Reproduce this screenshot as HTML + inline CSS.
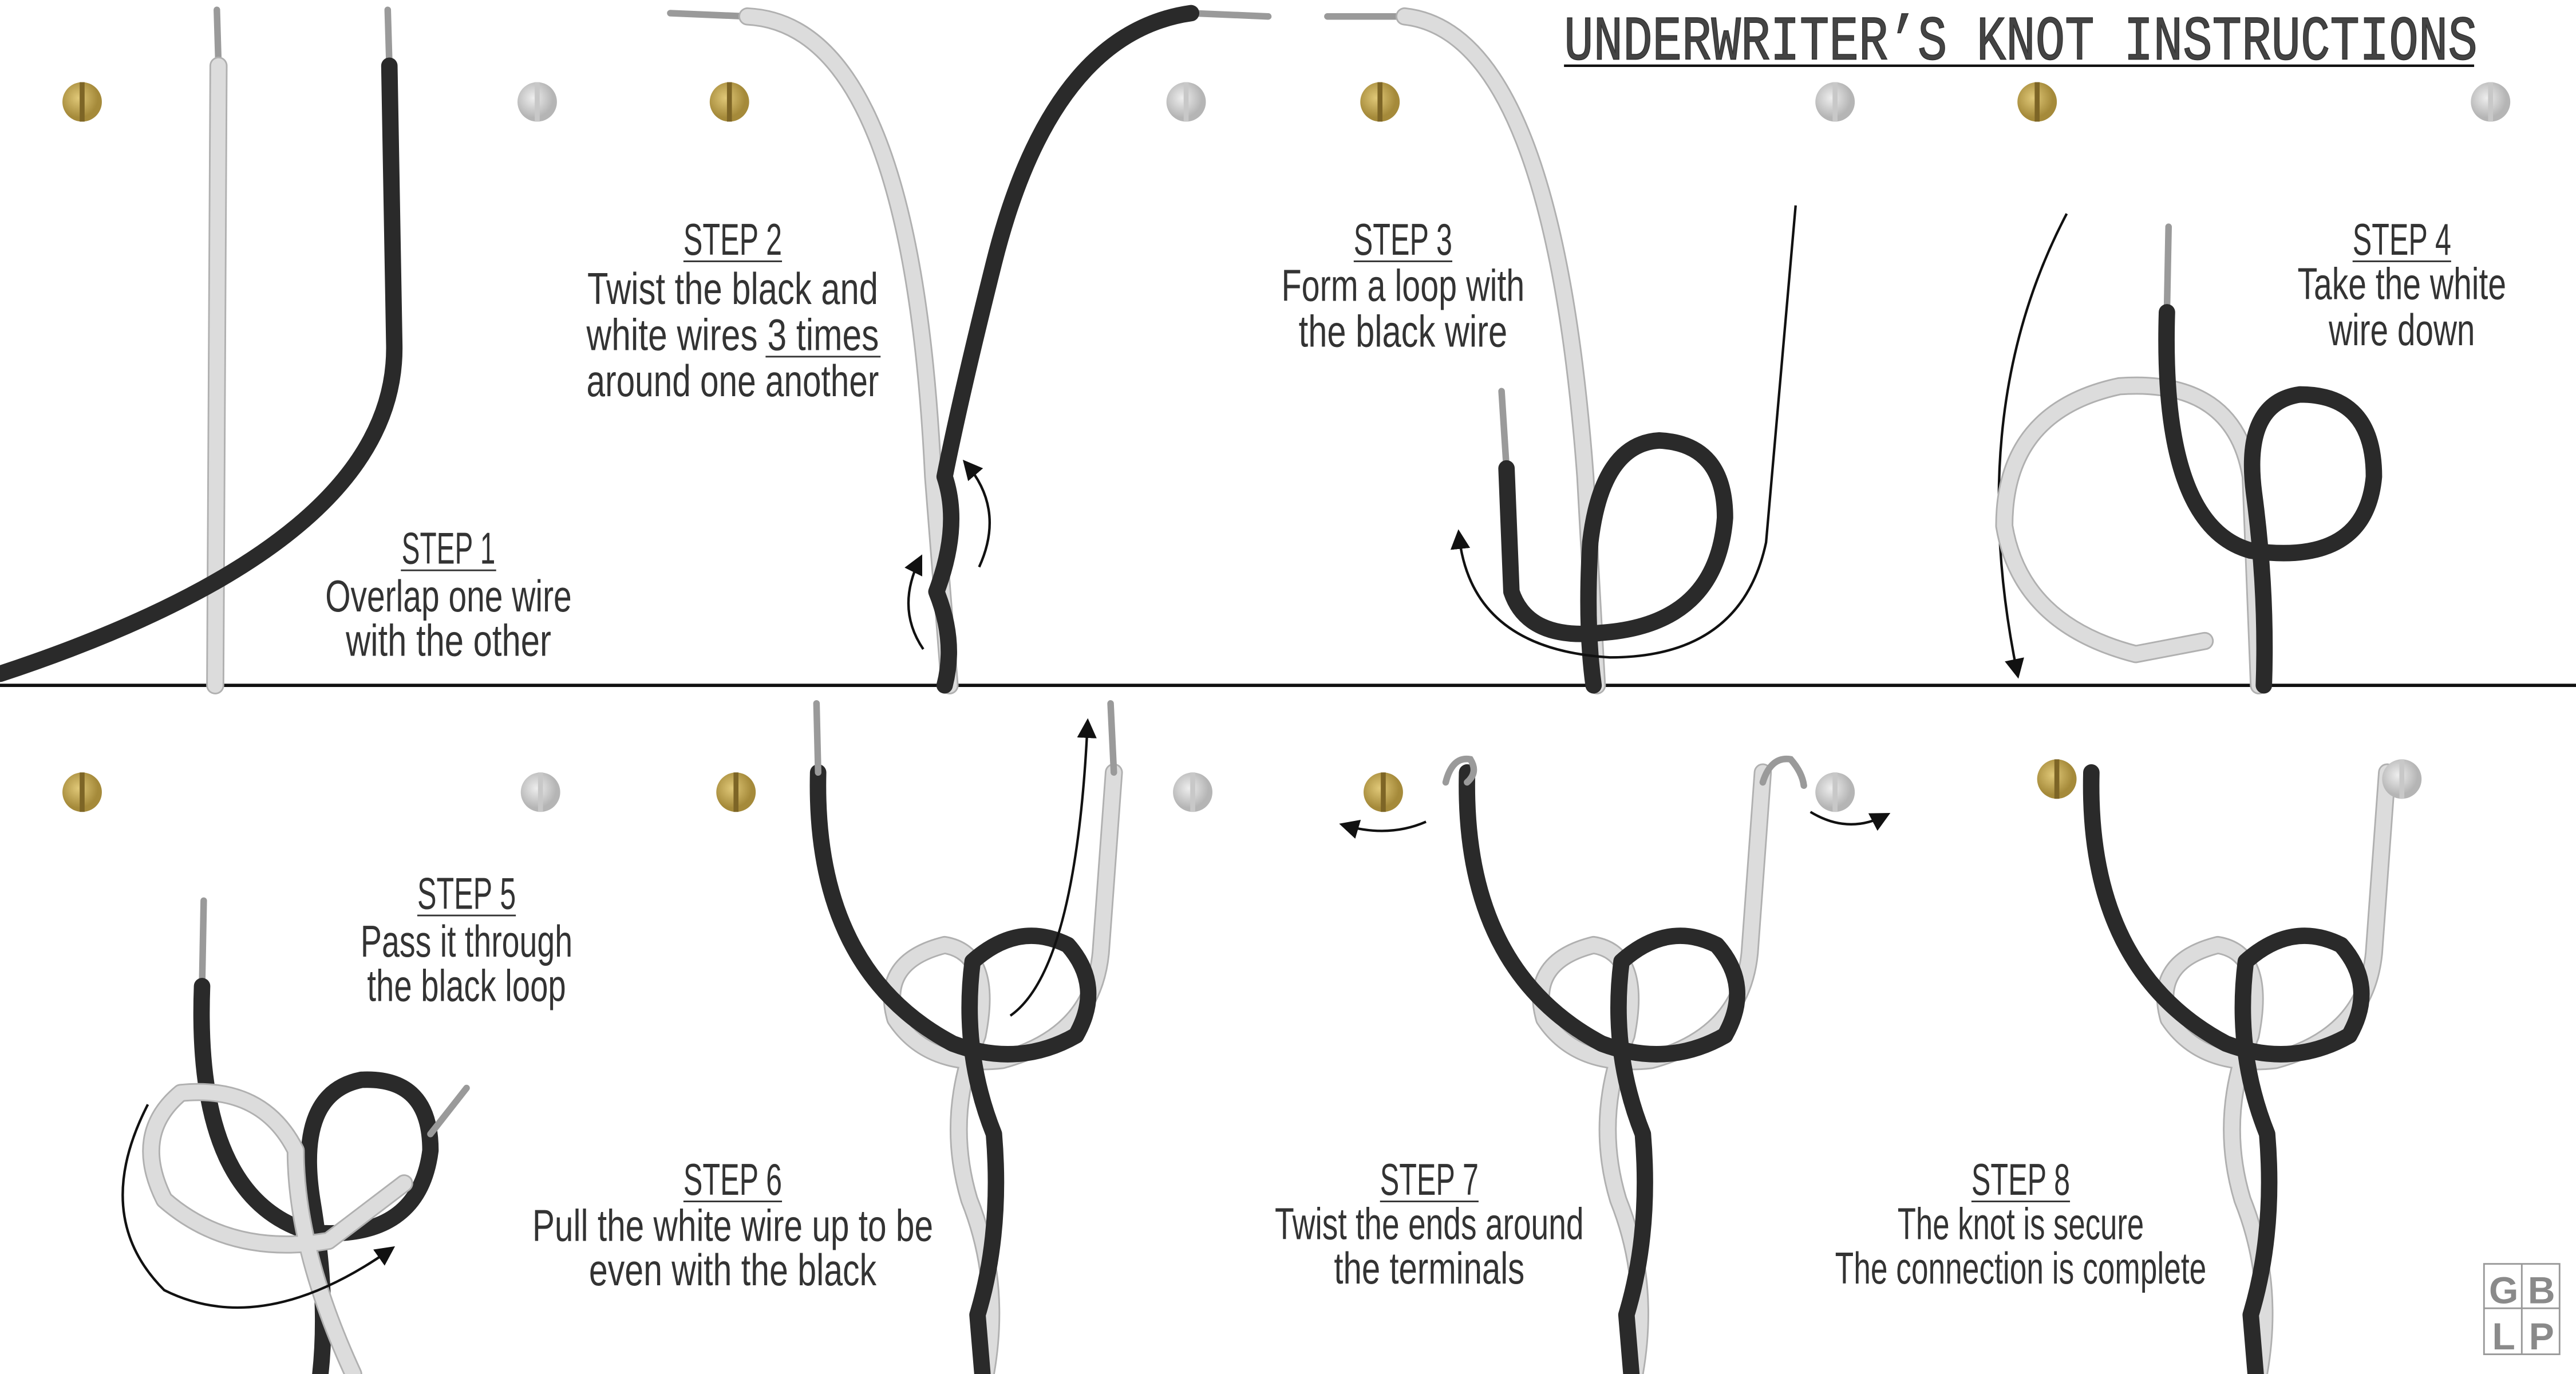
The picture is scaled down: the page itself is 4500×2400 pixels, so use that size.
<!DOCTYPE html>
<html><head><meta charset="utf-8">
<style>
html,body{margin:0;padding:0;background:#fff;}
svg{display:block;}
.t{font-family:"Liberation Sans Narrow","Liberation Sans",sans-serif;fill:#333;font-size:27px;text-anchor:middle;}
.bw{fill:none;stroke:#2a2a2a;stroke-width:10;stroke-linecap:round;stroke-linejoin:round;}
.ww{fill:none;stroke:#dcdcdc;stroke-width:9;stroke-linecap:round;stroke-linejoin:round;}
.wo{fill:none;stroke:#b0b0b0;stroke-width:11;stroke-linecap:round;stroke-linejoin:round;}
.tip{fill:none;stroke:#9a9a9a;stroke-width:4;stroke-linecap:round;}
.ar{fill:none;stroke:#111;stroke-width:1.5;}
</style></head>
<body>
<svg width="4500" height="2400" viewBox="0 0 1568 836" preserveAspectRatio="none" xmlns="http://www.w3.org/2000/svg">
<defs>
<radialGradient id="gold" cx="40%" cy="40%"><stop offset="0" stop-color="#e0c878"/><stop offset="1" stop-color="#a58a3a"/></radialGradient>
<radialGradient id="silv" cx="40%" cy="40%"><stop offset="0" stop-color="#eeeeee"/><stop offset="1" stop-color="#b5b5b5"/></radialGradient>
<marker id="ah" markerWidth="8" markerHeight="8" refX="6" refY="4" orient="auto"><path d="M0,0 L8,4 L0,8 z" fill="#111"/></marker>
<g id="sg"><circle r="12" fill="url(#gold)"/><rect x="-1.5" y="-12" width="3" height="24" fill="#7d6526"/></g>
<g id="ss"><circle r="12" fill="url(#silv)"/><rect x="-1.5" y="-12" width="3" height="24" fill="#c8c8c8"/></g>
</defs>
<rect width="1568" height="836" fill="#fff"/>

<text x="952" y="36" font-family="Liberation Mono,monospace" font-size="38" fill="#444" textLength="556" lengthAdjust="spacingAndGlyphs" stroke="#333" stroke-width="0.6">UNDERWRITER’S KNOT INSTRUCTIONS</text>
<line x1="952" y1="40" x2="1506" y2="40" stroke="#111" stroke-width="1.5"/>

<line x1="0" y1="417" x2="1568" y2="417" stroke="#111" stroke-width="2"/>

<use href="#sg" x="50" y="62"/><use href="#ss" x="327" y="62"/>
<use href="#sg" x="444" y="62"/><use href="#ss" x="722" y="62"/>
<use href="#sg" x="840" y="62"/><use href="#ss" x="1117" y="62"/>
<use href="#sg" x="1240" y="62"/><use href="#ss" x="1516" y="62"/>
<use href="#sg" x="50" y="482"/><use href="#ss" x="329" y="482"/>
<use href="#sg" x="448" y="482"/><use href="#ss" x="726" y="482"/>
<use href="#sg" x="842" y="482"/><use href="#ss" x="1117" y="482"/>

<!-- STEP 1 -->
<line class="tip" x1="132" y1="6" x2="133" y2="40"/>
<line class="wo" x1="133" y1="40" x2="131" y2="417"/><line class="ww" x1="133" y1="40" x2="131" y2="417"/>
<line class="tip" x1="236" y1="6" x2="237" y2="40"/>
<path class="bw" d="M237,40 L240,210 Q242,330 0,410"/>
<text class="t" x="273" y="343" textLength="57" lengthAdjust="spacingAndGlyphs">STEP 1</text><line x1="244" y1="347" x2="302" y2="347" stroke="#333"/>
<text class="t" x="273" y="372" textLength="150" lengthAdjust="spacingAndGlyphs">Overlap one wire</text>
<text class="t" x="273" y="399" textLength="125" lengthAdjust="spacingAndGlyphs">with the other</text>

<!-- STEP 2 -->
<line class="tip" x1="408" y1="8" x2="455" y2="10"/>
<path class="wo" d="M455,10 Q555,15 568,290 L578,417"/><path class="ww" d="M455,10 Q555,15 568,290 L578,417"/>
<line class="tip" x1="725" y1="8" x2="772" y2="10"/>
<path class="bw" d="M725,8 Q640,20 605,160 Q585,240 575,290 Q585,320 570,360 Q582,390 575,417"/>
<path class="ar" d="M596,345 Q612,310 588,282" marker-end="url(#ah)"/>
<path class="ar" d="M562,395 Q545,370 560,340" marker-end="url(#ah)"/>
<text class="t" x="446" y="155" textLength="60" lengthAdjust="spacingAndGlyphs">STEP 2</text><line x1="416" y1="159" x2="476" y2="159" stroke="#333"/>
<text class="t" x="446" y="185" textLength="177" lengthAdjust="spacingAndGlyphs">Twist the black and</text>
<text class="t" x="446" y="213" textLength="178" lengthAdjust="spacingAndGlyphs">white wires 3 times</text><line x1="466" y1="217" x2="536" y2="217" stroke="#333"/>
<text class="t" x="446" y="241" textLength="178" lengthAdjust="spacingAndGlyphs">around one another</text>

<!-- STEP 3 -->
<line class="tip" x1="808" y1="10" x2="855" y2="10"/>
<path class="wo" d="M855,10 Q945,20 965,290 L972,417"/><path class="ww" d="M855,10 Q945,20 965,290 L972,417"/>
<line class="tip" x1="914" y1="238" x2="917" y2="285"/>
<path class="bw" d="M917,285 L920,360 Q930,390 975,385 Q1045,380 1050,315 Q1050,270 1010,268 Q975,270 968,330 Q965,380 970,417"/>
<path class="ar" d="M1093,125 L1075,330 Q1060,400 980,400 Q895,395 888,325" marker-end="url(#ah)"/>
<text class="t" x="854" y="155" textLength="60" lengthAdjust="spacingAndGlyphs">STEP 3</text><line x1="824" y1="159" x2="884" y2="159" stroke="#333"/>
<text class="t" x="854" y="183" textLength="148" lengthAdjust="spacingAndGlyphs">Form a loop with</text>
<text class="t" x="854" y="211" textLength="127" lengthAdjust="spacingAndGlyphs">the black wire</text>

<!-- STEP 4 -->
<path class="ar" d="M1258,130 Q1195,250 1228,410" marker-end="url(#ah)"/>
<path class="wo" d="M1375,417 L1370,290 Q1360,230 1290,235 Q1220,250 1220,320 Q1230,380 1300,398 L1342,390"/>
<path class="ww" d="M1375,417 L1370,290 Q1360,230 1290,235 Q1220,250 1220,320 Q1230,380 1300,398 L1342,390"/>
<line class="tip" x1="1320" y1="138" x2="1319" y2="190"/>
<path class="bw" d="M1319,190 Q1315,320 1370,335 Q1440,345 1445,290 Q1445,240 1400,240 Q1365,245 1372,300 Q1380,360 1378,417"/>
<text class="t" x="1462" y="155" textLength="60" lengthAdjust="spacingAndGlyphs">STEP 4</text><line x1="1432" y1="159" x2="1492" y2="159" stroke="#333"/>
<text class="t" x="1462" y="182" textLength="127" lengthAdjust="spacingAndGlyphs">Take the white</text>
<text class="t" x="1462" y="210" textLength="89" lengthAdjust="spacingAndGlyphs">wire down</text>

<!-- STEP 5 -->
<line class="tip" x1="124" y1="548" x2="123" y2="600"/>
<path class="bw" d="M123,600 Q118,730 190,750 Q255,755 262,700 Q262,655 220,657 Q180,665 190,730 Q200,790 195,836"/>
<path class="wo" d="M215,836 Q180,760 180,700 Q160,660 110,665 Q80,690 100,730 Q140,765 200,755 L246,720"/>
<path class="ww" d="M215,836 Q180,760 180,700 Q160,660 110,665 Q80,690 100,730 Q140,765 200,755 L246,720"/>
<line class="tip" x1="262" y1="690" x2="284" y2="662"/>
<path class="ar" d="M90,672 Q55,740 100,785 Q160,815 238,760" marker-end="url(#ah)"/>
<text class="t" x="284" y="553" textLength="60" lengthAdjust="spacingAndGlyphs">STEP 5</text><line x1="254" y1="557" x2="314" y2="557" stroke="#333"/>
<text class="t" x="284" y="582" textLength="129" lengthAdjust="spacingAndGlyphs">Pass it through</text>
<text class="t" x="284" y="609" textLength="121" lengthAdjust="spacingAndGlyphs">the black loop</text>

<g id="knot">
<path class="wo" d="M600,836 Q610,780 590,730 Q575,680 595,630 Q605,580 575,575 Q535,585 545,620 Q565,650 610,645 Q665,630 670,580 L678,470"/>
<path class="ww" d="M600,836 Q610,780 590,730 Q575,680 595,630 Q605,580 575,575 Q535,585 545,620 Q565,650 610,645 Q665,630 670,580 L678,470"/>
<path class="bw" d="M498,470 Q495,590 580,635 Q620,650 655,630 Q672,600 650,575 Q620,560 592,585 Q585,640 605,690 Q610,750 595,800 L598,836"/>
</g>

<!-- STEP 6 -->
<line class="tip" x1="497" y1="428" x2="498" y2="470"/>
<line class="tip" x1="676" y1="428" x2="678" y2="470"/>
<path class="ar" d="M615,618 Q655,590 662,440" marker-end="url(#ah)"/>
<text class="t" x="446" y="727" textLength="60" lengthAdjust="spacingAndGlyphs">STEP 6</text><line x1="416" y1="731" x2="476" y2="731" stroke="#333"/>
<text class="t" x="446" y="755" textLength="244" lengthAdjust="spacingAndGlyphs">Pull the white wire up to be</text>
<text class="t" x="446" y="782" textLength="175" lengthAdjust="spacingAndGlyphs">even with the black</text>

<!-- STEP 7 -->
<g transform="translate(395,0)"><use href="#knot"/></g>
<path class="tip" d="M880,476 Q884,460 895,462 Q900,470 893,476"/>
<path class="tip" d="M1073,476 Q1078,460 1090,462 Q1097,470 1098,478"/>
<path class="ar" d="M868,500 Q845,510 818,502" marker-end="url(#ah)"/>
<path class="ar" d="M1102,494 Q1125,508 1148,496" marker-end="url(#ah)"/>
<text class="t" x="870" y="727" textLength="60" lengthAdjust="spacingAndGlyphs">STEP 7</text><line x1="840" y1="731" x2="900" y2="731" stroke="#333"/>
<text class="t" x="870" y="754" textLength="188" lengthAdjust="spacingAndGlyphs">Twist the ends around</text>
<text class="t" x="870" y="781" textLength="116" lengthAdjust="spacingAndGlyphs">the terminals</text>

<!-- STEP 8 -->
<g transform="translate(775,0)"><use href="#knot"/></g>
<use href="#sg" x="1252" y="474"/><use href="#ss" x="1462" y="474"/>
<text class="t" x="1230" y="727" textLength="60" lengthAdjust="spacingAndGlyphs">STEP 8</text><line x1="1200" y1="731" x2="1260" y2="731" stroke="#333"/>
<text class="t" x="1230" y="754" textLength="150" lengthAdjust="spacingAndGlyphs">The knot is secure</text>
<text class="t" x="1230" y="781" textLength="226" lengthAdjust="spacingAndGlyphs">The connection is complete</text>

<g font-family="Liberation Sans,sans-serif" font-weight="bold" font-size="23" fill="#8a8a8a" text-anchor="middle">
<rect x="1512" y="769" width="46" height="55" fill="none" stroke="#999"/>
<line x1="1535" y1="769" x2="1535" y2="824" stroke="#999"/>
<line x1="1512" y1="796" x2="1558" y2="796" stroke="#999"/>
<text x="1524" y="793">G</text><text x="1547" y="793">B</text>
<text x="1524" y="821">L</text><text x="1547" y="821">P</text>
</g>
</svg>
</body></html>
